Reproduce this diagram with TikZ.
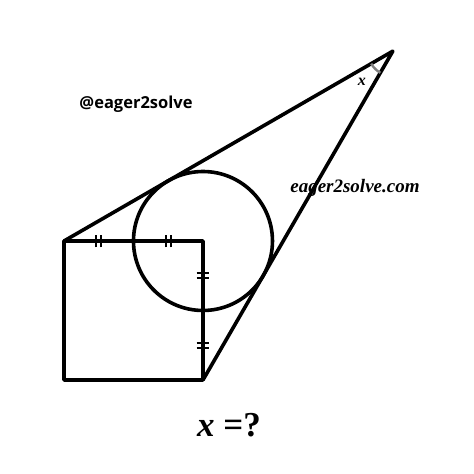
\documentclass[tikz,border=0pt]{standalone}
\usepackage{fontspec}
\setmainfont{Liberation Serif}
\newfontfamily\tagfont{Open Sans}

\begin{document}
\begin{tikzpicture}[x=69.5pt,y=69.5pt,
    figline/.style={line width=3.6pt,line join=round},
    tickmark/.style={line width=2.1pt}]
   \useasboundingbox (-2.921,-3.353) rectangle (3.899,3.468);

   % square, circle centred at its top right corner
   \coordinate (O) at (0,0);
   \coordinate (A) at (-2,0);
   \coordinate (D) at (-2,-2);
   \coordinate (C) at (0,-2);
   \coordinate (P) at ({1+sqrt(3)},{1+sqrt(3)});

   \draw[figline] (A) -- (O) -- (C) -- (D) -- cycle;
   \draw[figline] (A) -- (P) -- (C);
   \draw[figline] (O) circle (1);

   % angle at the apex
   \draw[gray,line width=2.4pt] ([shift={(210:0.36)}]P) arc (210:240:0.36);

   % equal parts
   \foreach \t in {-1.5,-0.5} {
     \draw[tickmark] (\t-0.035,-0.09) -- (\t-0.035,0.09)
                     (\t+0.035,-0.09) -- (\t+0.035,0.09);
     \draw[tickmark] (-0.09,\t-0.035) -- (0.09,\t-0.035)
                     (-0.09,\t+0.035) -- (0.09,\t+0.035);
   }

   \node[font=\tagfont\bfseries\fontsize{16.5}{19}\selectfont] (tag) at (-0.964,1.971) {@eager2solve};
   \node[font=\bfseries\itshape\fontsize{19}{22}\selectfont] (site) at (2.187,0.763) {eager2solve.com};
   \node[font=\bfseries\itshape\fontsize{16}{18}\selectfont] (xlab) at (2.288,2.288) {x};
   \node[font=\bfseries\fontsize{35}{40}\selectfont] (question) at (0.374,-2.647) {\textit{x} =?};
\end{tikzpicture}
\end{document}
